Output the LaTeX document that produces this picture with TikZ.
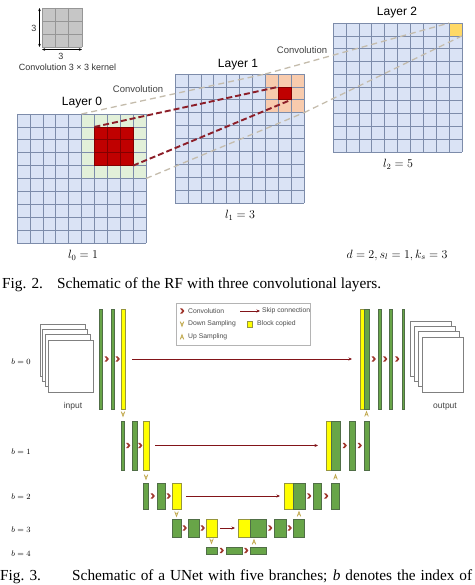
\documentclass[tikz,border=0pt]{standalone}
\usepackage{fontspec}
\setmainfont{Liberation Serif}
\setsansfont{Liberation Sans}
\usetikzlibrary{arrows.meta,calc}

\definecolor{cellblue}{RGB}{218,227,245}
\definecolor{gridgray}{RGB}{125,140,170}
\definecolor{kgreen}{RGB}{226,240,217}
\definecolor{korange}{RGB}{248,203,173}
\definecolor{kred}{RGB}{192,0,0}
\definecolor{kredline}{RGB}{130,0,0}
\definecolor{kyellow}{RGB}{255,217,102}
\definecolor{kgray}{RGB}{198,198,198}
\definecolor{klinegray}{RGB}{150,150,150}
\definecolor{dashgray}{RGB}{196,188,172}
\definecolor{dashred}{RGB}{140,30,40}
\definecolor{bargreen}{RGB}{104,165,72}
\definecolor{barline}{RGB}{80,110,70}
\definecolor{baryellow}{RGB}{255,255,0}
\definecolor{yline}{RGB}{150,150,60}
\definecolor{convred}{RGB}{160,55,45}
\definecolor{skipred}{RGB}{130,20,25}
\definecolor{sampcol}{RGB}{190,165,70}
\definecolor{legline}{RGB}{180,180,180}

\tikzset{
  gridline/.style={draw=gridgray, line width=0.6pt},
  redgrid/.style={draw=kredline, line width=0.6pt},
  kline/.style={draw=klinegray, line width=0.6pt},
  dimarrow/.style={line width=0.5pt, {Stealth[length=3pt,width=2.5pt]}-{Stealth[length=3pt,width=2.5pt]}},
  lightdash/.style={draw=dashgray, line width=1.3pt, dash pattern=on 6pt off 4pt},
  reddash/.style={draw=dashred, line width=1.9pt, dash pattern=on 6pt off 3pt},
  lbl/.style={font=\sffamily\fontsize{12}{14}\selectfont, inner sep=0pt},
  convlbl/.style={font=\sffamily\fontsize{9.5}{11}\selectfont, text=black!75, inner sep=0pt},
  klbl/.style={font=\sffamily\fontsize{9}{11}\selectfont, text=black!80, inner sep=0pt},
  mlbl/.style={font=\fontsize{12}{14}\selectfont, inner sep=0pt},
  capt/.style={font=\fontsize{15.3}{17}\selectfont, anchor=base west, inner sep=0pt},
  gbar/.style={draw=barline, fill=bargreen, line width=0.5pt},
  ybar/.style={draw=yline, fill=baryellow, line width=0.5pt},
  page/.style={draw=gray, fill=white, line width=0.5pt, inner sep=0pt, outer sep=0pt},
  skip/.style={draw=skipred, line width=0.8pt, -{Stealth[length=3.5pt,width=3pt]}},
  blbl/.style={font=\fontsize{8.2}{10}\selectfont, inner sep=0pt},
  iolbl/.style={font=\sffamily\fontsize{8.5}{10}\selectfont, text=black!75, inner sep=0pt},
  leglbl/.style={font=\sffamily\fontsize{6.8}{8}\selectfont, text=black!70, anchor=west, inner sep=0pt},
  convmark/.pic={\fill[convred] (-2,-2.6) -- (0.2,-2.6) -- (2.4,0) -- (0.2,2.6) -- (-2,2.6) -- (0.2,0) -- cycle;},
  downmark/.pic={\draw[sampcol, line width=0.7pt] (-1.8,-2.4) -- (0,2.4) -- (1.8,-2.4) (-1.1,-0.8) -- (1.1,-0.8);},
  upmark/.pic={\draw[sampcol, line width=0.7pt] (-1.8,2.4) -- (0,-2.4) -- (1.8,2.4) (-1.1,0.8) -- (1.1,0.8);}
}

% one bar of the unet: name, style, x1, x2, y1, y2
\newcommand{\ublock}[6]{\node[#2, inner sep=0pt, outer sep=0pt, minimum width={(#4-#3)*1pt}, minimum height={(#6-#5)*1pt}] (#1) at ({(#3+#4)/2},{(#5+#6)/2}) {};}
% 10x10 cell lines from the top left corner
\newcommand{\cellgrid}[2]{\foreach \i in {0,...,10}{\draw[gridline] ({#1+12.9*\i},#2) -- ++(0,129); \draw[gridline] (#1,{#2+12.9*\i}) -- ++(129,0);}}

\begin{document}
\begin{tikzpicture}[x=1pt, y=-1pt]
\useasboundingbox (0,0) rectangle (474,585);

% kernel
\fill[kgray] (42,8) rectangle (82,47);
\foreach \i in {0,...,3}{\draw[kline] ({42+13.33*\i},8) -- ++(0,39); \draw[kline] (42,{8+13*\i}) -- ++(40,0);}
\coordinate (kv1) at (39.5,8);
\coordinate (kv2) at (39.5,47);
\coordinate (kh1) at (42,49.5);
\coordinate (kh2) at (82,49.5);
\draw[dimarrow] (kv1) -- (kv2);
\draw[dimarrow] (kh1) -- (kh2);
\node[klbl] (kvl) at (34,28) {3};
\node[klbl] (khl) at (61,56) {3};
\node[klbl] (ktxt) at (67.5,67) {Convolution 3 × 3 kernel};

% layer 0
\fill[cellblue] (17,114) rectangle (146,243);
\fill[kgreen] (81.5,114) rectangle (146,178.5);
\cellgrid{17}{114}
\fill[kred] (94.4,126.9) rectangle (133.1,165.6);
\foreach \i in {0,...,3}{\draw[redgrid] ({94.4+12.9*\i},126.9) -- ++(0,38.7); \draw[redgrid] (94.4,{126.9+12.9*\i}) -- ++(38.7,0);}

% layer 1
\fill[cellblue] (175,74) rectangle (304,203);
\fill[korange] (265.3,74) rectangle (304,112.7);
\cellgrid{175}{74}
\fill[kred] (278.2,86.9) rectangle ++(12.9,12.9);
\draw[redgrid] (278.2,86.9) rectangle ++(12.9,12.9);

% layer 2
\fill[cellblue] (333,23) rectangle (462,152);
\fill[kyellow] (449.1,23) rectangle (462,35.9);
\cellgrid{333}{23}

% corners of the fields
\coordinate (g0tl) at (81.5,114);
\coordinate (g0br) at (146,178.5);
\coordinate (r0tl) at (94.4,126.9);
\coordinate (r0br) at (133.1,165.6);
\coordinate (o1tl) at (265.3,74);
\coordinate (o1br) at (304,112.7);
\coordinate (r1tl) at (278.2,86.9);
\coordinate (r1br) at (291.1,99.8);
\coordinate (y2tl) at (449.1,23);
\coordinate (y2br) at (462,35.9);
\draw[lightdash] (g0tl) -- (o1tl);
\draw[lightdash] (g0br) -- (o1br);
\draw[lightdash] (o1tl) -- (y2tl);
\draw[lightdash] (o1br) -- (y2br);
\draw[reddash] (r0tl) -- (r1tl);
\draw[reddash] (r0br) -- (r1br);

\node[lbl] (lay0) at (82,103) {Layer 0};
\node[lbl] (lay1) at (238,65) {Layer 1};
\node[lbl] (lay2) at (397,13) {Layer 2};
\node[convlbl] (conv01) at (138,89) {Convolution};
\node[convlbl] (conv12) at (302,50) {Convolution};
\node[mlbl] (l0) at (83,255) {$l_0 = 1$};
\node[mlbl] (l1) at (240,215) {$l_1 = 3$};
\node[mlbl] (l2) at (398,164) {$l_2 = 5$};
\node[mlbl] (dsk) at (397,255) {$d = 2, s_l = 1, k_s = 3$};

\node[capt] (cap2a) at (2,288) {Fig. 2.};
\node[capt] (cap2b) at (57,288) {\makebox[324pt][s]{Schematic of the RF with three convolutional layers.}};

% unet: input and output stacks
\foreach \k in {0,...,3}
  \node[page, minimum width=45pt, minimum height=52pt] (in\k) at ({62.5+2.7*\k},{350+5.3*\k}) {};
\foreach \k in {0,...,3}
  \node[page, minimum width=41pt, minimum height=55pt] (out\k) at ({430.5+4*\k},{348.5+5.3*\k}) {};
\node[iolbl] (inlbl) at (73,406) {input};
\node[iolbl] (outlbl) at (445,407) {output};

% legend
\node[draw=legline, fill=white, line width=0.6pt, minimum width=134pt, minimum height=42pt] (legend) at (243,324) {};
\pic at (182,311) {convmark};
\node[leglbl] (lgconv) at (188,311) {Convolution};
\pic at (182,324) {downmark};
\node[leglbl] (lgdown) at (188,324) {Down Sampling};
\pic at (182,337) {upmark};
\node[leglbl] (lgup) at (188,337) {Up Sampling};
\coordinate (lgs1) at (240,311);
\coordinate (lgs2) at (260,311);
\draw[skip] (lgs1) -- (lgs2);
\node[leglbl] (lgskip) at (262,311) {Skip connection};
\ublock{lgcopy}{ybar}{247}{252}{321}{327}
\node[leglbl] (lgblock) at (257,324) {Block copied};

% b = 0
\ublock{e0a}{gbar}{99}{102}{309}{409}
\ublock{e0b}{gbar}{111}{114}{309}{409}
\ublock{e0c}{ybar}{121}{125}{309}{409}
\ublock{d0y}{ybar}{360}{364}{309}{409}
\ublock{d0g}{gbar}{364}{369}{309}{409}
\ublock{d0a}{gbar}{378}{381}{309}{409}
\ublock{d0b}{gbar}{389}{392}{309}{409}
\ublock{d0c}{gbar}{402}{404}{309}{409}
% b = 1
\ublock{e1a}{gbar}{121}{124}{421}{470}
\ublock{e1b}{gbar}{132}{137}{421}{470}
\ublock{e1c}{ybar}{143}{149}{421}{470}
\ublock{d1y}{ybar}{326}{331}{421}{470}
\ublock{d1g}{gbar}{331}{340}{421}{470}
\ublock{d1a}{gbar}{349}{355}{421}{470}
\ublock{d1b}{gbar}{364}{369}{421}{470}
% b = 2
\ublock{e2a}{gbar}{143}{148}{483}{509}
\ublock{e2b}{gbar}{157}{165}{483}{509}
\ublock{e2c}{ybar}{172}{181}{483}{509}
\ublock{d2y}{ybar}{284}{293}{483}{509}
\ublock{d2g}{gbar}{293}{305}{483}{509}
\ublock{d2a}{gbar}{313}{321}{483}{509}
\ublock{d2b}{gbar}{331}{339}{483}{509}
% b = 3
\ublock{e3a}{gbar}{172}{181}{519}{537}
\ublock{e3b}{gbar}{188}{199}{519}{537}
\ublock{e3c}{ybar}{206}{217}{519}{537}
\ublock{d3y}{ybar}{238}{250}{519}{537}
\ublock{d3g}{gbar}{250}{266}{519}{537}
\ublock{d3a}{gbar}{274}{286}{519}{537}
\ublock{d3b}{gbar}{293}{304}{519}{537}
% b = 4
\ublock{m4a}{gbar}{206}{217}{547}{554}
\ublock{m4b}{gbar}{226}{242}{547}{554}
\ublock{m4c}{gbar}{250}{266}{547}{554}

% convolutions
\foreach \a/\b in {e0a/e0b, e0b/e0c, d0g/d0a, d0a/d0b, d0b/d0c, e1a/e1b, e1b/e1c, d1g/d1a, d1a/d1b,
                   e2a/e2b, e2b/e2c, d2g/d2a, d2a/d2b, e3a/e3b, e3b/e3c, d3g/d3a, d3a/d3b, m4a/m4b, m4b/m4c}
  \pic at ($(\a.east)!0.5!(\b.west)$) {convmark};

% sampling
\pic at ($(e0c.south)+(0,5)$) {downmark};
\pic at ($(e1c.south)+(0,7)$) {downmark};
\pic at ($(e2c.south)+(0,5)$) {downmark};
\pic at ($(e3c.south)+(0,4)$) {downmark};
\pic at ($(d0g.south)+(0,5)$) {upmark};
\pic at ($(d1g.south)+(0,7)$) {upmark};
\pic at ($(d2g.south)+(0,5)$) {upmark};
\pic at ($(d3g.south)+(-4,5)$) {upmark};

% skip connections
\draw[skip] ([xshift=7pt]e0c.east) -- ([xshift=-8pt]d0y.west);
\draw[skip] ([xshift=6pt]e1c.east) -- ([xshift=-8pt]d1y.west);
\draw[skip] ([xshift=5pt]e2c.east) -- ([xshift=-4pt]d2y.west);
\draw[skip] ([xshift=3pt]e3c.east) -- ([xshift=-3pt]d3y.west);

\node[blbl] (b0) at (21,362) {$b = 0$};
\node[blbl] (b1) at (21,452) {$b = 1$};
\node[blbl] (b2) at (21,497) {$b = 2$};
\node[blbl] (b3) at (21,530) {$b = 3$};
\node[blbl] (b4) at (21,554) {$b = 4$};

\node[capt] (cap3a) at (0,580.5) {Fig. 3.};
\node[capt] (cap3b) at (72,580.5) {\makebox[400pt][s]{Schematic of a UNet with five branches; \textit{b} denotes the index of}};
\end{tikzpicture}
\end{document}
